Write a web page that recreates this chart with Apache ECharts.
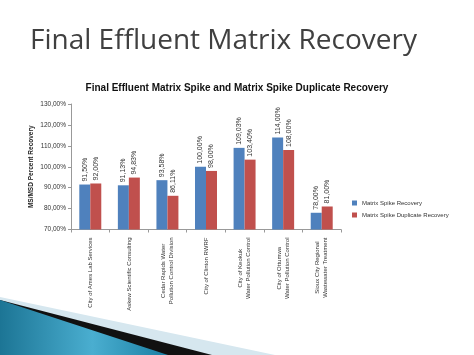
<!DOCTYPE html>
<html>
<head>
<meta charset="utf-8">
<script src="https://cdn.jsdelivr.net/npm/echarts@6/dist/echarts.min.js"></script>
<style>
  html, body { margin: 0; padding: 0; background: #fff; }
  #chart { width: 474px; height: 355px; }
</style>
</head>
<body>
<div id="chart"></div>
<script>
// lab names, one per bar group
var labs = [
  'City of Ames Lab Services',
  'Askew Scientific Consulting',
  'Cedar Rapids Water\nPollution Control Division',
  'City of Clinton RWRF',
  'City of Keokuk\nWater Pollution Control',
  'City of Ottumwa\nWater Pollution Control',
  'Sioux City Regional\nWastewater Treatment'
];
var msRecovery = [91.50, 91.13, 93.58, 100.00, 109.03, 114.00, 78.00];
var msdRecovery = [92.00, 94.83, 86.11, 98.00, 103.40, 108.00, 81.00];
var seriesNames = ['Matrix Spike Recovery', 'Matrix Spike Duplicate Recovery'];

function pct(v) {
  return v.toFixed(2).replace('.', ',') + '%';
}

var chart = echarts.init(document.getElementById('chart'), null, { renderer: 'canvas' });

var labelStyle = {
  show: true,
  position: 'top',
  rotate: 90,
  align: 'left',
  verticalAlign: 'middle',
  distance: 3,
  fontSize: 7,
  fontFamily: 'Liberation Sans',
  color: '#333',
  formatter: function (p) { return pct(p.value); }
};

chart.setOption({
  backgroundColor: '#fff',
  animation: false,
  graphic: [
    {
      type: 'text', left: 30, top: 27,
      style: { text: 'Final Effluent Matrix Recovery', fontSize: 28, fontFamily: 'Open Sans', fill: '#404040' }
    },
    {
      type: 'text', left: 'center', top: 83,
      style: { text: 'Final Effluent Matrix Spike and Matrix Spike Duplicate Recovery', fontSize: 10, fontWeight: 'bold', fontFamily: 'Liberation Sans', fill: '#111' }
    },
    // corner swoosh decoration
    { type: 'polygon', z: -1, shape: { points: [[0, 297], [275, 355], [0, 355]] }, style: { fill: '#d6e7ef' } },
    { type: 'polygon', z: -1, shape: { points: [[0, 300], [212, 355], [0, 355]] }, style: { fill: '#111' } },
    {
      type: 'polygon', z: -1, shape: { points: [[0, 300], [168, 355], [0, 355]] },
      style: {
        fill: new echarts.graphic.LinearGradient(0, 0, 1, 0, [
          { offset: 0, color: '#1c7595' },
          { offset: 0.55, color: '#4aaed0' },
          { offset: 1, color: '#1a7fa3' }
        ])
      }
    }
  ],
  legend: {
    orient: 'vertical',
    left: 347,
    top: 195,
    itemWidth: 5,
    itemHeight: 5,
    itemGap: 6,
    icon: 'rect',
    textStyle: { fontSize: 6, fontFamily: 'Liberation Sans', color: '#333' },
    data: seriesNames
  },
  grid: { left: 71, right: 133, top: 104, bottom: 125.5, containLabel: false },
  xAxis: {
    type: 'category',
    data: labs,
    axisLine: { lineStyle: { color: '#999' } },
    axisTick: { show: true, length: 3, lineStyle: { color: '#999' } },
    axisLabel: {
      rotate: 90,
      interval: 0,
      fontSize: 6,
      lineHeight: 8,
      fontFamily: 'Liberation Sans',
      color: '#333',
      margin: 8,
      align: 'right',
      formatter: function (v) {
        return v.split('\n').map(function (s) { return '{c|' + s + '}'; }).join('\n');
      },
      rich: {
        c: { fontSize: 6, lineHeight: 8, fontFamily: 'Liberation Sans', color: '#333', align: 'center' }
      }
    }
  },
  yAxis: {
    type: 'value',
    min: 70,
    max: 130,
    interval: 10,
    name: 'MS/MSD Percent Recovery',
    nameLocation: 'middle',
    nameGap: 36,
    nameMoveOverlap: false,
    nameRotate: 90,
    nameTextStyle: { fontSize: 6.5, fontWeight: 'bold', fontFamily: 'Liberation Sans', color: '#222' },
    axisLine: { show: true, lineStyle: { color: '#999' } },
    axisTick: { show: true, length: 3, lineStyle: { color: '#999' } },
    splitLine: { show: false },
    axisLabel: {
      fontSize: 6.5,
      fontFamily: 'Liberation Sans',
      color: '#333',
      margin: 5,
      formatter: function (v) { return pct(v); }
    }
  },
  series: [
    {
      name: seriesNames[0],
      type: 'bar',
      data: msRecovery,
      itemStyle: { color: '#4f81bd' },
      barGap: '0%',
      barCategoryGap: '43%',
      label: labelStyle
    },
    {
      name: seriesNames[1],
      type: 'bar',
      data: msdRecovery,
      itemStyle: { color: '#c0504d' },
      label: labelStyle
    }
  ]
});
</script>
</body>
</html>
